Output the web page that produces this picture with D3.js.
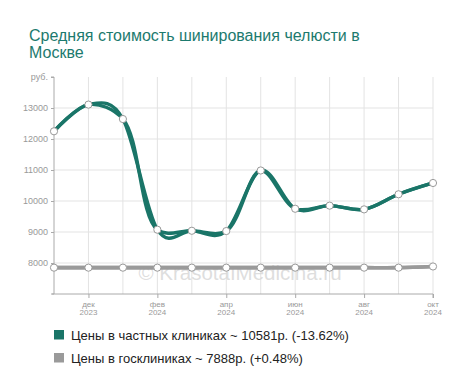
<!DOCTYPE html>
<html><head><meta charset="utf-8">
<script src="https://cdn.jsdelivr.net/npm/d3@7"></script>
<style>body{margin:0;background:#fff;font-family:"Liberation Sans",Arial,sans-serif}</style>
</head><body><svg id="c" width="474" height="391"></svg>
<script>
const months = ["2023-11","2023-12","2024-01","2024-02","2024-03","2024-04","2024-05","2024-06","2024-07","2024-08","2024-09","2024-10"];
const privatePrices = [12249,13110,12644,9074,9040,9030,10985,9750,9850,9730,10217,10581];
const publicPrices = [7850,7850,7850,7850,7850,7850,7850,7850,7850,7850,7850,7888];
const yTicks = [8000,9000,10000,11000,12000,13000];
const xTickLabels = [["2023-12","дек","2023"],["2024-02","фев","2024"],["2024-04","апр","2024"],["2024-06","июн","2024"],["2024-08","авг","2024"],["2024-10","окт","2024"]];
const legendItems = [["Цены в частных клиниках ~ 10581р. (-13.62%)","#1a7568"],["Цены в госклиниках ~ 7888р. (+0.48%)","#9a9a9a"]];

const svg = d3.select("#c");
const x = d3.scalePoint().domain(months).range([54,433]);
const y = d3.scaleLinear().domain([7000,14000]).range([294,77]);
const FF = "Liberation Sans, Arial, sans-serif";

// title
const t = svg.append("text").attr("fill","#1c7a6e").attr("font-size",16).attr("font-family",FF);
t.append("tspan").attr("x",29).attr("y",40.5).text("Средняя стоимость шинирования челюсти в");
t.append("tspan").attr("x",29).attr("y",57.5).text("Москве");

// grid
const g = svg.append("g");
g.selectAll(".hg").data(yTicks).join("line").attr("x1",54).attr("x2",433)
 .attr("y1",d=>y(d)).attr("y2",d=>y(d)).attr("stroke","#e3e3e3");
g.selectAll(".vg").data(months.slice(1)).join("line").attr("x1",d=>x(d)).attr("x2",d=>x(d))
 .attr("y1",77).attr("y2",294).attr("stroke","#e3e3e3");

// y axis
const ya = svg.append("g").attr("transform","translate(54,0)")
 .call(d3.axisLeft(y).tickValues([...yTicks,14000]).tickSize(3).tickFormat(d=>d===14000?"руб.":d));
ya.select(".domain").attr("stroke","#aaa").attr("d","M-3,77H0V294H-3");
ya.selectAll(".tick line").attr("stroke","#aaa");
ya.selectAll(".tick text").attr("fill","#999").attr("font-size",9).attr("font-family",FF);

// x axis
const xa = svg.append("g").attr("transform","translate(0,294)")
 .call(d3.axisBottom(x).tickValues(xTickLabels.map(d=>d[0])).tickSize(4).tickFormat(""));
xa.select(".domain").attr("stroke","#aaa").attr("d","M52,0H433V4");
xa.selectAll(".tick line").attr("stroke","#aaa");
const xl = svg.append("g").selectAll("text").data(xTickLabels).join("text")
 .attr("x",d=>x(d[0])).attr("text-anchor","middle").attr("fill","#999").attr("font-size",8)
 .attr("font-family",FF);
xl.append("tspan").attr("x",d=>x(d[0])).attr("y",306.5).text(d=>d[1]);
xl.append("tspan").attr("x",d=>x(d[0])).attr("y",315).text(d=>d[2]);

// watermark
svg.append("text").attr("x",240).attr("y",280).attr("text-anchor","middle").attr("font-size",20.5)
 .attr("font-family",FF).attr("fill","#d6d6d6").attr("fill-opacity",0.8).text("© KrasotaIMedicina.ru");

// lines
function drawSeries(vals, color, w){
  const pts = vals.map((v,i)=>[x(months[i]),y(v)]);
  const l1 = d3.line().curve(d3.curveCardinal.tension(0));
  const l2 = d3.line().curve(d3.curveCatmullRom.alpha(0.5));
  svg.append("path").attr("d",l1(pts)).attr("fill","none").attr("stroke",color).attr("stroke-width",w);
  svg.append("path").attr("d",l2(pts)).attr("fill","none").attr("stroke",color).attr("stroke-width",w);
  svg.append("g").selectAll("circle").data(pts).join("circle").attr("cx",d=>d[0]).attr("cy",d=>d[1])
   .attr("r",3.6).attr("fill","#fff").attr("stroke","#999").attr("stroke-width",1);
}
drawSeries(publicPrices,"#9a9a9a",3.6);
drawSeries(privatePrices,"#1a7568",3.4);

// legend
const lg = svg.append("g").selectAll("g").data(legendItems).join("g")
 .attr("transform",(d,i)=>`translate(54,${330+i*23})`);
lg.append("rect").attr("width",10).attr("height",9.5).attr("fill",d=>d[1]);
lg.append("text").attr("x",17).attr("y",9.5).attr("font-size",13).attr("fill","#222")
 .attr("font-family",FF).text(d=>d[0]);
</script></body></html>
